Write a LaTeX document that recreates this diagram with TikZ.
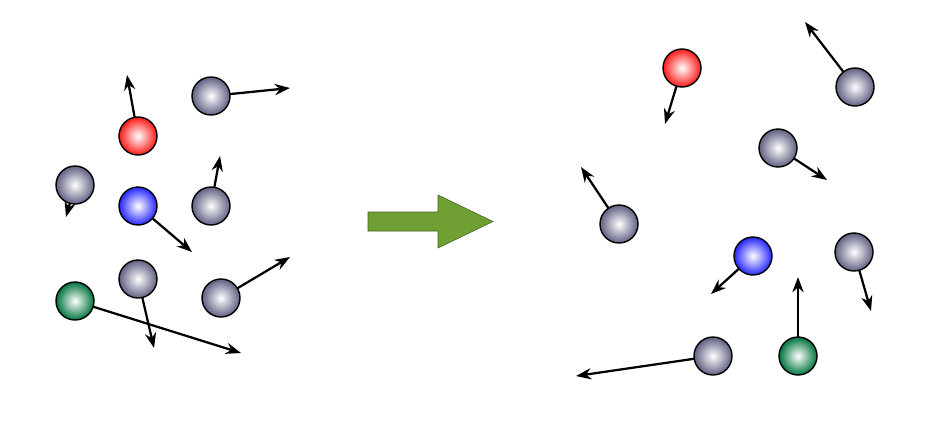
\documentclass[tikz,border=0pt]{standalone}
\usetikzlibrary{arrows.meta}
\definecolor{steparrow}{RGB}{112,160,52}
\begin{document}
\begin{tikzpicture}[x=0.025cm,y=-0.025cm,>={Stealth[length=3.8mm,width=2.8mm]},
	every ball/.style={circle,draw=black,line width=1pt,minimum size=0.95cm,inner sep=0pt,
		shading=radial},
	gray ball/.style={every ball,inner color=white,outer color=black!45!blue!25!gray},
	red ball/.style={every ball,inner color=white,outer color=red!90},
	blue ball/.style={every ball,inner color=white,outer color=blue!85},
	green ball/.style={every ball,inner color=white,outer color=teal!70!green!70!black},
	velocity/.style={->,line width=1.6pt}]

	\useasboundingbox (0,0) rectangle (938,437);

	% before
	\coordinate (v1) at (127,75);  \coordinate (v2) at (290,88);
	\coordinate (v3) at (66,217);  \coordinate (v4) at (192,252);
	\coordinate (v5) at (220,156); \coordinate (v6) at (241,353);
	\coordinate (v7) at (154,348); \coordinate (v8) at (290,257);
	\draw [velocity] (138,136) -- (v1);
	\draw [velocity] (211,96) -- (v2);
	\draw [velocity] (75,185) -- (v3);
	\draw [velocity] (138,206) -- (v4);
	\draw [velocity] (211,206) -- (v5);
	\draw [velocity] (75,301) -- (v6);
	\draw [velocity] (138,279) -- (v7);
	\draw [velocity] (221,298) -- (v8);
	\node [red ball] (a1) at (138,136) {};
	\node [gray ball] (a2) at (211,96) {};
	\node [gray ball] (a3) at (75,185) {};
	\node [blue ball] (a4) at (138,206) {};
	\node [gray ball] (a5) at (211,206) {};
	\node [green ball] (a6) at (75,301) {};
	\node [gray ball] (a7) at (138,279) {};
	\node [gray ball] (a8) at (221,298) {};

	% after
	\coordinate (w1) at (665,124); \coordinate (w2) at (805,22);
	\coordinate (w3) at (827,180); \coordinate (w4) at (581,167);
	\coordinate (w5) at (711,294); \coordinate (w6) at (871,311);
	\coordinate (w7) at (798,277); \coordinate (w8) at (576,376);
	\draw [velocity] (682,68) -- (w1);
	\draw [velocity] (855,87) -- (w2);
	\draw [velocity] (778,148) -- (w3);
	\draw [velocity] (619,224) -- (w4);
	\draw [velocity] (753,256) -- (w5);
	\draw [velocity] (854,252) -- (w6);
	\draw [velocity] (798,356) -- (w7);
	\draw [velocity] (713,356) -- (w8);
	\node [red ball] (b1) at (682,68) {};
	\node [gray ball] (b2) at (855,87) {};
	\node [gray ball] (b3) at (778,148) {};
	\node [gray ball] (b4) at (619,224) {};
	\node [blue ball] (b5) at (753,256) {};
	\node [gray ball] (b6) at (854,252) {};
	\node [green ball] (b7) at (798,356) {};
	\node [gray ball] (b8) at (713,356) {};

	% time step
	\draw [fill=steparrow, draw=steparrow!60!black]
		(368,212) -- (438,212) -- (438,195) -- (493,221.5) -- (438,248)
		-- (438,231) -- (368,231) -- cycle;
\end{tikzpicture}
\end{document}
